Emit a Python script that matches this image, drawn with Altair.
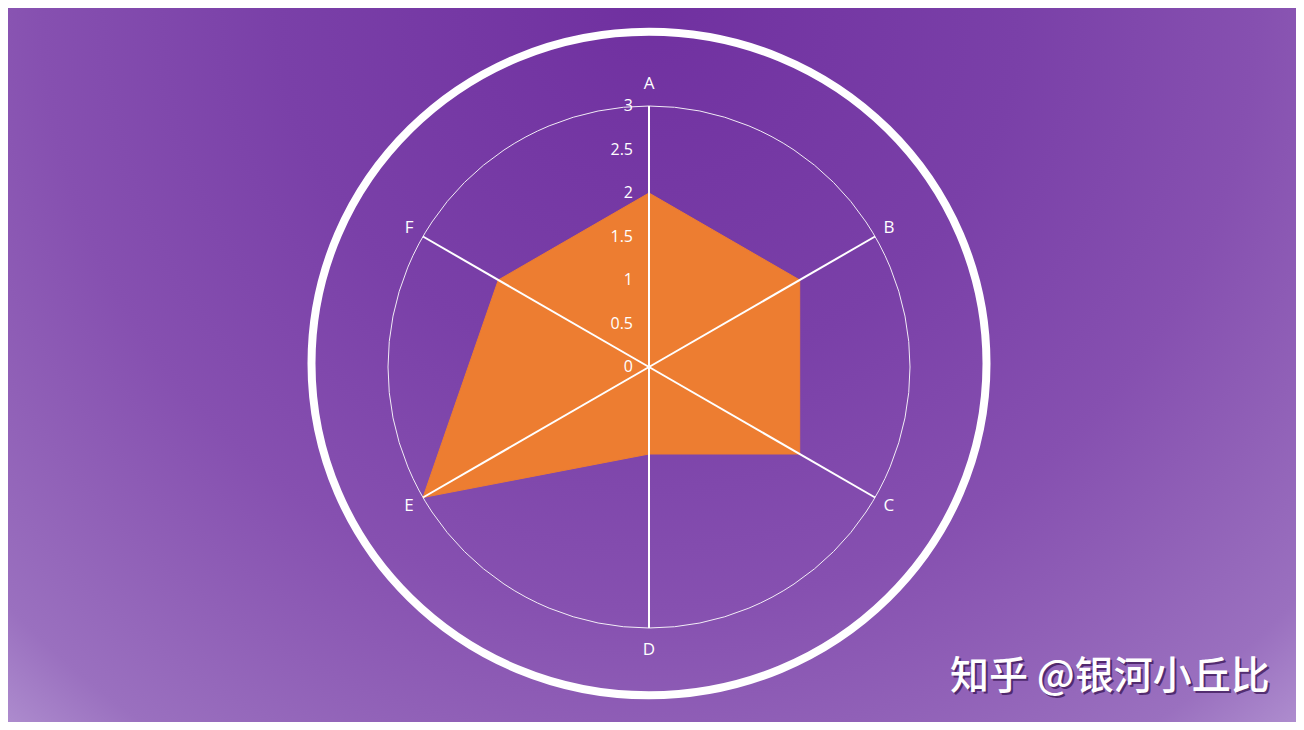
import altair as alt
import pandas as pd

CATEGORIES = ["A", "B", "C", "D", "E", "F"]
VALUES = [2, 2, 2, 1, 3, 2]
TICKS = [0, 0.5, 1, 1.5, 2, 2.5, 3]
TICK_LABELS = ["0", "0.5", "1", "1.5", "2", "2.5", "3"]
MAX_VALUE = 3
WATERMARK = "知乎 @银河小丘比"

# layout (pixels of the plot area)
W, H = 1288, 714
CX, CY = 641, 359
UNIT = 87
LABEL_BASE, LABEL_EXTRA = 3.12, 0.13
RING_RX_PX = 337.5
RING_SHAPE = "M-1,0A1,0.983,0,1,1,1,0A1,0.983,0,1,1,-1,0Z"  # slightly flattened ring
RING_LIFT = 0.04  # ring centre sits a touch above the radar centre
GLOW_HALF = 760  # half side of the square that carries the background gradient
GLOW_X, GLOW_Y = 641, -8
FONT = "Open Sans"

x_scale = alt.Scale(domain=[-CX / UNIT, (W - CX) / UNIT], nice=False, zero=False)
y_scale = alt.Scale(domain=[(CY - H) / UNIT, CY / UNIT], nice=False, zero=False)

radar = pd.DataFrame({
    "cat": CATEGORIES,
    "value": VALUES,
    "idx": list(range(len(CATEGORIES))),
    "max": [MAX_VALUE] * len(CATEGORIES),
})
ticks = pd.DataFrame({"t": TICKS, "label": TICK_LABELS})
centre = pd.DataFrame({"x": [0.0], "y": [0.0]})
ring_centre = pd.DataFrame({"x": [0.0], "y": [RING_LIFT]})

angle = "datum.idx * PI / 3"

background = alt.Chart(centre).mark_rect(
    color=alt.RadialGradient(
        gradient="radial",
        stops=[
            alt.GradientStop(color="#7030a0", offset=0),
            alt.GradientStop(color="#7a40a8", offset=0.38),
            alt.GradientStop(color="#8650b0", offset=0.62),
            alt.GradientStop(color="#9060b7", offset=0.76),
            alt.GradientStop(color="#9a70bf", offset=0.9),
            alt.GradientStop(color="#b090d0", offset=1),
        ],
        x1=0.5, y1=0.5, r1=0, x2=0.5, y2=0.5, r2=980 / (2 * GLOW_HALF),
    )
).encode(
    x=alt.value(GLOW_X - GLOW_HALF), x2=alt.value(GLOW_X + GLOW_HALF),
    y=alt.value(GLOW_Y - GLOW_HALF), y2=alt.value(GLOW_Y + GLOW_HALF),
)

ring = alt.Chart(ring_centre).mark_point(
    shape=RING_SHAPE, filled=False, size=(2 * RING_RX_PX) ** 2,
    stroke="white", strokeWidth=8, opacity=1,
).encode(
    x=alt.X("x:Q", scale=x_scale, axis=None),
    y=alt.Y("y:Q", scale=y_scale, axis=None),
)

grid = alt.Chart(centre).mark_point(
    shape="circle", filled=False, size=(2 * MAX_VALUE * UNIT) ** 2,
    stroke="white", strokeWidth=1, opacity=0.9,
).encode(
    x=alt.X("x:Q", scale=x_scale, axis=None),
    y=alt.Y("y:Q", scale=y_scale, axis=None),
)

polygon = alt.Chart(radar).transform_calculate(
    px=f"datum.value * sin({angle})",
    py=f"datum.value * cos({angle})",
).mark_line(
    interpolate="linear-closed", fill="#ed7d31", stroke="#ed7d31", strokeWidth=1,
).encode(
    x=alt.X("px:Q", scale=x_scale, axis=None),
    y=alt.Y("py:Q", scale=y_scale, axis=None),
    order=alt.Order("idx:Q"),
)

spokes = alt.Chart(radar).transform_calculate(
    zero="0",
    sx=f"datum.max * sin({angle})",
    sy=f"datum.max * cos({angle})",
).mark_rule(color="white", strokeWidth=2).encode(
    x=alt.X("zero:Q", scale=x_scale, axis=None),
    y=alt.Y("zero:Q", scale=y_scale, axis=None),
    x2="sx:Q",
    y2="sy:Q",
)

tick_text = alt.Chart(ticks).transform_calculate(zero="0").mark_text(
    align="right", baseline="middle", dx=-16, color="white",
    font=FONT, fontSize=16,
).encode(
    x=alt.X("zero:Q", scale=x_scale, axis=None),
    y=alt.Y("t:Q", scale=y_scale, axis=None),
    text="label:N",
)

cat_text = alt.Chart(radar).transform_calculate(
    lr=f"{LABEL_BASE} + {LABEL_EXTRA} * abs(cos({angle}))",
).transform_calculate(
    lx=f"datum.lr * sin({angle})",
    ly=f"datum.lr * cos({angle})",
).mark_text(
    align="center", baseline="middle", color="white", font=FONT, fontSize=17,
).encode(
    x=alt.X("lx:Q", scale=x_scale, axis=None),
    y=alt.Y("ly:Q", scale=y_scale, axis=None),
    text="cat:N",
)

mark_df = pd.DataFrame({"text": [WATERMARK]})
shadow = alt.Chart(mark_df).mark_text(
    align="left", baseline="middle", font="Noto Sans CJK SC", fontSize=39,
    fontWeight=500, color="#3b1656", opacity=0.75, dx=2, dy=2,
).encode(x=alt.value(942), y=alt.value(669), text="text:N")
watermark = alt.Chart(mark_df).mark_text(
    align="left", baseline="middle", font="Noto Sans CJK SC", fontSize=39,
    fontWeight=500, color="white",
).encode(x=alt.value(942), y=alt.value(669), text="text:N")

chart = (
    alt.layer(background, ring, grid, polygon, spokes, tick_text, cat_text, shadow, watermark)
    .properties(width=W, height=H, padding=0, autosize=alt.AutoSizeParams(type="none"),
                background="#7e45aa")
    .configure_view(strokeWidth=0)
)

chart.save("out.html", embed_options={"renderer": "svg", "actions": False})
